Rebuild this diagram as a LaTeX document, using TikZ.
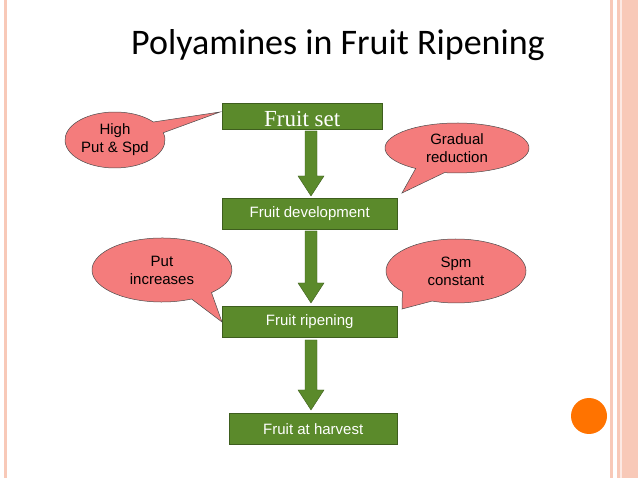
\documentclass[tikz,border=0pt]{standalone}
\usepackage{fontspec}
\setmainfont{Liberation Sans}
\newfontfamily\titlefont{Carlito}
\newfontfamily\serifs{Liberation Serif}
\usetikzlibrary{calc}
\definecolor{grn}{HTML}{5B8A2B}
\definecolor{grnd}{HTML}{3E5E1E}
\definecolor{pnk}{HTML}{F47C7C}
\definecolor{stripe}{HTML}{F8C9B8}
\tikzset{
 box/.style={draw=grnd,fill=grn,text=white,font=\fontsize{15}{18}\selectfont,inner sep=0pt},
 blob/.style={draw=black!70,fill=pnk,line width=0.5pt},
 btext/.style={align=center,font=\fontsize{15}{18}\selectfont},
 barrow/.style={draw=grnd,fill=grn}
}
\begin{document}
\begin{tikzpicture}[x=1pt,y=-1pt]
\useasboundingbox (0,0) rectangle (638,478);
\fill[white] (0,0) rectangle (638,478);
% stripes
\fill[stripe] (4,0) rectangle (7,478);
\fill[stripe] (610,0) rectangle (613,478);
\fill[stripe] (617,0) rectangle (638,478);
\fill[white!60!stripe] (620,0) rectangle (622,478);
\node[font=\titlefont\fontsize{36}{40}\selectfont] (title) at (338,45) {Polyamines in Fruit Ripening};
% boxes
\node[box,minimum width=160pt,minimum height=26pt,font=\serifs\fontsize{23}{25}\selectfont,anchor=north west] (set) at (222,103) {\raisebox{-6pt}[8pt][0pt]{Fruit set}};
\node[box,minimum width=175pt,minimum height=31pt,anchor=north west] (dev) at (222,198) {Fruit development};
\node[box,minimum width=175pt,minimum height=31pt,anchor=north west] (rip) at (222,306) {Fruit ripening};
\node[box,minimum width=168pt,minimum height=31pt,anchor=north west] (har) at (229,413) {Fruit at harvest};
% block arrows
\coordinate (a1) at (311,131); \coordinate (b1) at (311,196);
\coordinate (a2) at (311,231); \coordinate (b2) at (311,303);
\coordinate (a3) at (311,340); \coordinate (b3) at (311,410);
\foreach \s/\e in {a1/b1,a2/b2,a3/b3}{
 \draw[barrow] ($(\s)+(-6,0)$) -- ($(\s)+(6,0)$) -- ($(\e)+(6,-20)$) -- ($(\e)+(13,-20)$) -- (\e) -- ($(\e)+(-13,-20)$) -- ($(\e)+(-6,-20)$) -- cycle;
}
% callouts
\coordinate (e1) at (115,140); \coordinate (t1) at (220,112);
\draw[blob] (t1) -- ($(e1)+(-15:50 and 28)$) arc[start angle=-15,end angle=320,x radius=50,y radius=28] -- cycle;
\node[btext] (c1) at (e1) {High\\Put \& Spd};
\coordinate (e2) at (457,148); \coordinate (t2) at (402,193);
\draw[blob] (t2) -- ($(e2)+(125:72 and 25)$) arc[start angle=125,end angle=460,x radius=72,y radius=25] -- cycle;
\node[btext] (c2) at (e2) {Gradual\\reduction};
\coordinate (e3) at (162,270); \coordinate (t3) at (222,322);
\draw[blob] (t3) -- ($(e3)+(65:70 and 32)$) arc[start angle=65,end angle=405,x radius=70,y radius=32] -- cycle;
\node[btext] (c3) at (e3) {Put\\increases};
\coordinate (e4) at (456,271); \coordinate (t4) at (402,309);
\draw[blob] (t4) -- ($(e4)+(140:70 and 32)$) arc[start angle=140,end angle=470,x radius=70,y radius=32] -- cycle;
\node[btext] (c4) at (e4) {Spm\\constant};
\fill[orange!90!red] (589,416) circle (18);
\end{tikzpicture}
\end{document}
